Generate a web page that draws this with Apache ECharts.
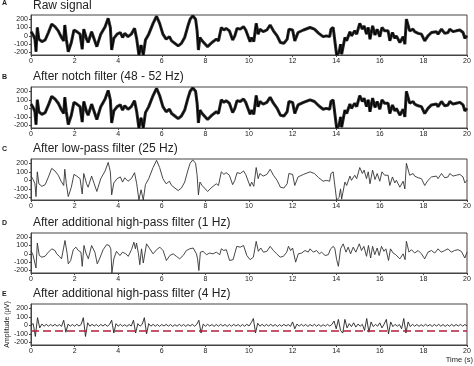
<!DOCTYPE html>
<html>
<head>
<meta charset="utf-8">
<script src="https://cdn.jsdelivr.net/npm/echarts@6/dist/echarts.min.js"></script>
<style>
html,body{margin:0;padding:0;background:#fff;}
#main{width:474px;height:366px;}
</style>
</head>
<body>
<div id="main"></div>
<script>
// panel titles and letters
var panelTitles = ['Raw signal', 'After notch filter (48 - 52 Hz)', 'After low-pass filter (25 Hz)',
  'After additional high-pass filter (1 Hz)', 'After additional high-pass filter (4 Hz)'];
var panelLetters = ['A', 'B', 'C', 'D', 'E'];
var yTicks = [-200, -100, 0, 100, 200];
var threshold = -65;

// low-pass signal [time s, uV] (also the centre of the raw / notch traces)
var lowPass = [[0,50],[0.1,10],[0.18,-40],[0.23,-190],[0.29,100],[0.36,-40],[0.5,-70],[0.65,-50],[0.8,40],[0.95,140],
  [1.1,110],[1.25,60],[1.38,-10],[1.45,-30],[1.5,-60],[1.55,130],[1.62,-40],[1.71,-190],[1.85,-80],[1.97,70],
  [2.1,50],[2.25,20],[2.35,-160],[2.42,80],[2.55,-40],[2.62,-80],[2.78,50],[2.9,-40],[3.02,-130],[3.2,20],
  [3.4,110],[3.54,210],[3.64,100],[3.7,-170],[3.8,-30],[3.95,20],[4.1,40],[4.2,-20],[4.3,30],[4.45,-10],
  [4.6,20],[4.75,90],[4.85,-40],[4.95,-230],[5.05,-110],[5.15,-230],[5.25,-50],[5.4,20],[5.6,150],[5.76,235],
  [5.9,150],[6.05,20],[6.2,-40],[6.35,-10],[6.45,-60],[6.6,-90],[6.75,-120],[6.9,-90],[7.05,-20],[7.2,120],
  [7.3,200],[7.42,240],[7.55,200],[7.62,60],[7.68,-170],[7.75,-20],[7.85,-60],[8.1,-130],[8.3,-80],[8.5,-40],
  [8.6,-60],[8.73,100],[8.85,70],[8.95,90],[9.1,60],[9.25,-50],[9.35,0],[9.45,90],[9.6,80],[9.75,110],
  [9.85,70],[10.05,-70],[10.12,-20],[10.22,-70],[10.33,150],[10.42,20],[10.5,80],[10.65,50],[10.82,70],[10.97,130],
  [11.12,60],[11.29,0],[11.44,-80],[11.6,-90],[11.75,-40],[11.83,80],[11.92,60],[12.0,70],[12.1,-60],[12.25,40],
  [12.5,70],[12.8,100],[13.0,80],[13.2,30],[13.28,50],[13.4,-10],[13.55,0],[13.7,-10],[13.76,80],[13.86,100],
  [13.95,90],[14.02,-230],[14.13,-200],[14.2,-100],[14.25,-220],[14.4,-20],[14.48,-60],[14.63,50],[14.7,0],[14.85,60],
  [14.94,20],[15.08,150],[15.2,80],[15.28,120],[15.39,20],[15.47,100],[15.55,-40],[15.67,120],[15.78,10],[15.88,80],
  [16.0,-10],[16.1,100],[16.22,60],[16.3,40],[16.38,60],[16.46,-60],[16.58,40],[16.69,-30],[16.76,0],[16.92,-80],
  [17.07,-10],[17.15,-100],[17.22,200],[17.37,60],[17.53,80],[17.6,50],[17.76,30],[17.91,20],[18.06,-60],[18.21,0],
  [18.37,40],[18.44,20],[18.6,50],[18.67,20],[18.83,80],[18.98,30],[19.13,40],[19.21,80],[19.36,50],[19.51,60],
  [19.67,70],[19.82,40],[19.9,-30],[20,0]];

// after 1 Hz high-pass
var highPass1 = [[0,30],[0.08,0],[0.23,-170],[0.29,130],[0.38,-20],[0.5,-40],[0.64,-30],[0.8,20],[0.95,60],[1.1,40],
  [1.18,0],[1.3,-30],[1.4,-60],[1.48,-40],[1.56,160],[1.66,0],[1.71,-120],[1.82,-80],[1.94,50],[2.06,80],
  [2.17,40],[2.29,20],[2.35,-150],[2.43,100],[2.52,10],[2.63,-60],[2.78,100],[2.93,20],[3.04,-120],[3.16,-50],
  [3.31,50],[3.47,110],[3.59,100],[3.66,60],[3.71,-230],[3.8,-60],[3.92,30],[4.08,-20],[4.2,20],[4.35,0],
  [4.46,-30],[4.61,50],[4.72,140],[4.79,60],[4.84,130],[4.93,0],[4.99,-130],[5.07,60],[5.15,-110],[5.3,120],
  [5.45,60],[5.6,0],[5.76,50],[5.91,80],[6.06,40],[6.21,-80],[6.37,-20],[6.52,0],[6.67,-30],[6.82,-60],
  [6.98,-20],[7.13,40],[7.28,60],[7.44,70],[7.59,0],[7.64,-60],[7.7,-200],[7.77,20],[7.89,30],[8.05,-10],
  [8.2,10],[8.35,0],[8.5,20],[8.66,-10],[8.73,60],[8.84,40],[8.96,50],[9.11,-80],[9.27,-70],[9.44,90],
  [9.6,80],[9.75,100],[9.9,-20],[10.05,-70],[10.2,-40],[10.25,-60],[10.33,150],[10.43,30],[10.54,70],[10.66,20],
  [10.82,30],[10.97,90],[11.12,40],[11.27,0],[11.43,-40],[11.58,-30],[11.73,20],[11.81,90],[11.91,40],[12.0,70],
  [12.14,-100],[12.26,0],[12.42,10],[12.57,40],[12.72,20],[12.8,60],[12.95,20],[13.1,40],[13.23,0],[13.33,20],
  [13.49,-20],[13.64,-10],[13.74,60],[13.87,90],[13.94,60],[14.02,-70],[14.1,-150],[14.2,60],[14.32,120],[14.45,20],
  [14.55,80],[14.66,0],[14.78,80],[14.9,20],[15.06,120],[15.16,40],[15.27,90],[15.39,-30],[15.48,100],[15.58,-50],
  [15.67,90],[15.77,-10],[15.88,70],[15.97,-20],[16.08,90],[16.19,30],[16.28,60],[16.4,-80],[16.49,60],[16.61,10],
  [16.73,-10],[16.92,-60],[17.07,0],[17.16,-70],[17.22,150],[17.34,20],[17.45,50],[17.6,10],[17.76,40],[17.91,0],
  [18.06,-60],[18.21,20],[18.37,40],[18.52,10],[18.67,60],[18.82,20],[18.98,40],[19.13,60],[19.28,20],[19.43,40],
  [19.59,50],[19.74,30],[19.9,-50],[20,20]];

// after 4 Hz high-pass, one value every 0.1 s
var highPass4 = [
  5,20,-130,90,-30,15,-10,12,-10,10,
  -8,12,-10,10,-12,60,-80,15,-10,10,
  -10,12,-8,10,90,-130,30,-10,12,-8,
  10,-12,10,-8,12,-10,10,60,-90,20,
  -10,12,-10,8,-12,10,-8,60,-90,20,
  -10,12,90,-100,20,-10,12,-10,10,-12,
  10,-8,12,-10,10,-12,8,-10,12,-8,
  10,-12,10,-8,12,-10,10,60,-90,15,
  -10,12,-8,10,-12,10,-10,12,-8,10,
  -12,10,-10,12,-8,10,-12,10,-10,12,
  -8,30,80,-90,25,-10,12,-10,10,-8,
  12,-10,10,-12,8,-10,12,-8,10,-12,
  40,-40,15,-10,12,-8,10,-12,10,-8,
  12,-10,10,-12,8,-10,12,-8,10,50,
  -40,70,-60,-90,70,-30,20,-15,30,-20,
  15,-10,12,-60,80,-80,40,-15,12,-10,
  30,-30,15,70,-100,40,-15,12,-10,10,
  -40,80,-90,40,-15,12,-10,10,-12,8,
  -10,12,-8,10,-12,10,-8,12,-10,10,
  -12,8,-10,12,-10,10,-8,12,-10,10,
  -5];
var highPass4Pts = highPass4.map(function (v, i) { return [i / 10, v]; });

var gridTops = [15, 87, 159, 233, 304];
var gridHeights = [40, 41, 41, 40, 41];
var font = 'Liberation Sans, Arial, sans-serif';

var grids = [], xAxes = [], yAxes = [], titles = [], series = [];
for (var i = 0; i < 5; i++) {
  grids.push({left: 31, right: 7, top: gridTops[i], height: gridHeights[i], outerBoundsMode: 'none',
    containLabel: false, show: true, borderColor: '#444', borderWidth: 1, backgroundColor: 'transparent'});
  xAxes.push({type: 'value', gridIndex: i, min: 0, max: 20, interval: 2,
    axisLine: {show: true, onZero: false, lineStyle: {color: '#444'}},
    axisTick: {show: true, length: 2, lineStyle: {color: '#444'}},
    axisLabel: {fontSize: 7, margin: 3, color: '#222', fontFamily: font},
    splitLine: {show: false}});
  yAxes.push({type: 'value', gridIndex: i, min: -230, max: 250,
    axisLine: {show: true, onZero: false, lineStyle: {color: '#444'}},
    axisTick: {show: true, length: 2, customValues: yTicks, lineStyle: {color: '#444'}},
    axisLabel: {fontSize: 7, margin: 3, color: '#222', fontFamily: font, customValues: yTicks},
    splitLine: {show: false}});
  titles.push({text: panelTitles[i], left: 33, top: gridTops[i] - 16, padding: 0,
    textStyle: {fontSize: 12, fontWeight: 'normal', color: '#222', fontFamily: font}});
  titles.push({text: panelLetters[i], left: 2, top: gridTops[i] - 13, padding: 0,
    textStyle: {fontSize: 7, fontWeight: 'bold', color: '#222', fontFamily: font}});
}
titles[0].top = 0;
titles[1].top = 0;
titles.push({text: 'Time (s)', right: 1, top: 356, padding: 0,
  textStyle: {fontSize: 7.5, fontWeight: 'normal', color: '#222', fontFamily: font}});
yAxes[4].name = 'Amplitude (\u03bcV)';
yAxes[4].nameLocation = 'middle';
yAxes[4].nameGap = 20;
yAxes[4].nameMoveOverlap = false;
yAxes[4].nameTextStyle = {fontSize: 7, color: '#222', fontFamily: font};

function line(idx, data, color, width) {
  return {type: 'line', xAxisIndex: idx, yAxisIndex: idx, data: data, showSymbol: false,
    symbol: 'none', lineStyle: {color: color, width: width}, silent: true};
}
// raw and notch traces: noisy band around the same waveform
series.push(line(0, lowPass, '#2a2a2a', 3));
series.push(line(0, lowPass, '#000', 1));
series.push(line(1, lowPass, '#2a2a2a', 3));
series.push(line(1, lowPass, '#000', 1));
series.push(line(2, lowPass, '#333', 0.9));
series.push(line(3, highPass1, '#333', 0.9));
var e = line(4, highPass4Pts, '#222', 0.9);
e.markLine = {silent: true, symbol: 'none', label: {show: false},
  lineStyle: {color: '#b3203c', width: 1.5, type: [8, 4]},
  data: [{yAxis: threshold}]};
series.push(e);

var myChart = echarts.init(document.getElementById('main'));
myChart.setOption({
  animation: false,
  title: titles,
  grid: grids,
  xAxis: xAxes,
  yAxis: yAxes,
  series: series
});
</script>
</body>
</html>
